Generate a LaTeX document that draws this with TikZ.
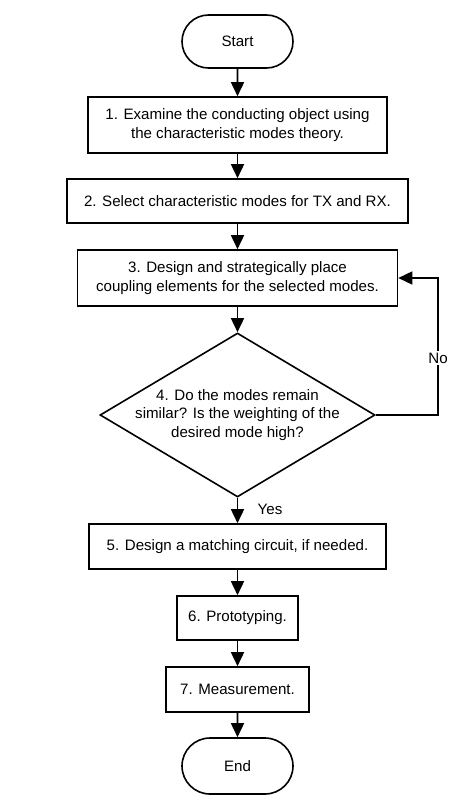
\documentclass[tikz,border=0pt]{standalone}
\usepackage{fontspec}
\setmainfont{Liberation Sans}
\usetikzlibrary{arrows.meta,shapes.geometric,shapes.misc}

\begin{document}
\begin{tikzpicture}[x=1pt, y=-1pt, line width=1.6pt,
		font=\fontsize{15.1}{18.5}\selectfont,
		stepbox/.style={draw, rectangle, align=center, inner sep=0pt},
		termbox/.style={draw, rounded rectangle, minimum width=111pt, inner sep=0pt},
		arr/.style={-{Triangle[length=14pt, width=13pt]}}]
				\useasboundingbox (0, 0) rectangle (474, 808);

				\node[termbox, minimum height=53pt] (start) at (237.5, 41.5) {Start};
				\node[stepbox, minimum width=299pt, minimum height=56pt] (s1) at (237.5, 125) {1. Examine the conducting object using\\the characteristic modes theory.};
				\node[stepbox, minimum width=341pt, minimum height=44pt] (s2) at (237.5, 201) {2. Select characteristic modes for TX and RX.};
				\node[stepbox, minimum width=320pt, minimum height=56pt] (s3) at (237.5, 278) {3. Design and strategically place\\coupling elements for the selected modes.};
				\node[draw, diamond, aspect=1.68, inner sep=-10pt, minimum width=275pt, minimum height=164pt, align=center] (s4) at (237.5, 415) {4. Do the modes remain\\similar? Is the weighting of the\\desired mode high?};
				\node[stepbox, minimum width=297pt, minimum height=45pt] (s5) at (237.5, 546.5) {5. Design a matching circuit, if needed.};
				\node[stepbox, minimum width=121pt, minimum height=44pt] (s6) at (237.5, 618) {6. Prototyping.};
				\node[stepbox, minimum width=143pt, minimum height=45pt] (s7) at (237.5, 689.5) {7. Measurement.};
				\node[termbox, minimum height=56pt] (end) at (237.5, 766) {End};

				\draw[arr] (start) -- (s1);
				\draw[arr] (s1) -- (s2);
				\draw[arr] (s2) -- (s3);
				\draw[arr] (s3) -- (s4);
				\draw[arr] (s4) -- (s5);
				\draw[arr] (s5) -- (s6);
				\draw[arr] (s6) -- (s7);
				\draw[arr] (s7) -- (end);

				% loop back when the modes differ
				\coordinate (back) at (438, 415);
				\draw[arr] (s4.east) -- (back) |- (s3.east);
				\node[fill=white, inner sep=2pt] (no) at (438, 358) {No};
				\node[] (yes) at (270, 509) {Yes};

			\end{tikzpicture}
\end{document}
